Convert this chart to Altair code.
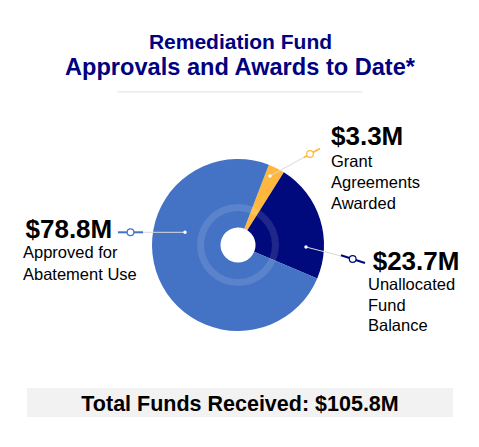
import math
import pandas as pd
import altair as alt

# slices of the fund, clockwise from the small yellow one
categories = ["Grant Agreements Awarded", "Unallocated Fund Balance", "Approved for Abatement Use"]
amounts = [3.3, 23.7, 78.8]
slice_order = [1, 2, 3]
slice_colors = ["#FFB83D", "#000A7C", "#4472C4"]
value_labels = ["$3.3M", "$23.7M", "$78.8M"]
name_labels = [["Grant", "Agreements", "Awarded"],
               ["Unallocated", "Fund", "Balance"],
               ["Approved for", "Abatement Use"]]
title_lines = ["Remediation Fund", "Approvals and Awards to Date*"]
total_text = "Total Funds Received: $105.8M"

slices = pd.DataFrame({"category": categories, "amount": amounts, "order": slice_order})

FONT = "Liberation Sans"
NAVY = "#000080"
GRAY = "#D9D9D9"
OFF = 8
CX, CY = 238 - OFF, 245 - OFF
START = math.radians(21)


def one():
    return alt.Chart(pd.DataFrame({"a": [0]}))


def pos(x, y):
    return dict(x=alt.value(x - OFF), y=alt.value(y - OFF))


def seg(x1, y1, x2, y2, color, w):
    return one().mark_rule(color=color, strokeWidth=w).encode(
        x=alt.value(x1 - OFF), y=alt.value(y1 - OFF),
        x2=alt.value(x2 - OFF), y2=alt.value(y2 - OFF))


def label(txt, x, y, size, bold=False, color="black", lh=None, align="left"):
    kw = dict(text=txt, font=FONT, fontSize=size, color=color, align=align,
              baseline="alphabetic", fontWeight="bold" if bold else "normal")
    if lh:
        kw["lineHeight"] = lh
    return one().mark_text(**kw).encode(**pos(x, y))


donut = alt.Chart(slices).mark_arc(innerRadius=17.5, outerRadius=86).encode(
    theta=alt.Theta("amount:Q", stack=True,
                    scale=alt.Scale(range=[START, START + 2 * math.pi])),
    color=alt.Color("category:N", legend=None,
                    scale=alt.Scale(domain=categories, range=slice_colors)),
    order=alt.Order("order:Q"),
    x=alt.value(CX), y=alt.value(CY))

ring = one().mark_arc(innerRadius=34, outerRadius=41, theta=0, theta2=2 * math.pi,
                      color="white", opacity=0.12).encode(x=alt.value(CX), y=alt.value(CY))

# leader lines: (dot on slice, open circle, coloured tick)
leaders = [
    ((270, 176), (310, 154), (304, 157.5, 320, 148.5), slice_colors[0]),
    ((306, 247), (352.7, 259), (341, 255.2, 365, 263), slice_colors[1]),
    ((185, 232.3), (130.5, 232.3), (118, 232.3, 143, 232.3), slice_colors[2]),
]
leader_layers = []
for dot, circ, tick, col in leaders:
    leader_layers.append(seg(dot[0], dot[1], circ[0], circ[1], GRAY, 1))
    leader_layers.append(seg(*tick, col, 2))
    leader_layers.append(one().mark_point(filled=True, color="white", stroke=col,
                                          strokeWidth=1.2, size=45, opacity=1)
                         .encode(**pos(*circ)))
    leader_layers.append(one().mark_point(filled=True, color="white", size=12, opacity=1)
                         .encode(**pos(*dot)))

texts = [
    label(title_lines[0], 240.5, 49.3, 21, bold=True, color=NAVY, align="center"),
    label(title_lines[1], 240, 75, 23.6, bold=True, color=NAVY, align="center"),
    label(value_labels[0], 331, 145, 26, bold=True),
    label(name_labels[0], 331, 166.7, 16.5, lh=21),
    label(value_labels[1], 372.7, 270, 26, bold=True),
    label(name_labels[1], 368, 290, 16.5, lh=20.5),
    label(value_labels[2], 25.5, 237.5, 26, bold=True),
    label(name_labels[2], 23, 257.5, 16.5, lh=22.5),
]

divider = seg(117, 91.7, 362, 91.7, "#EBEBEB", 1.5)
total_box = one().mark_rect(color="#F2F2F2").encode(
    x=alt.value(27 - OFF), x2=alt.value(453 - OFF),
    y=alt.value(388 - OFF), y2=alt.value(417 - OFF))
total_label = label(total_text, 240, 410.7, 21.5, bold=True, align="center")

chart = alt.layer(
    donut, ring, divider, total_box, total_label, *leader_layers, *texts
).properties(
    width=463, height=431, padding=0, background="white",
    autosize=alt.AutoSizeParams(type="none")
).configure_view(strokeWidth=0)

chart.save("out.html", embed_options={"renderer": "svg", "actions": False})
